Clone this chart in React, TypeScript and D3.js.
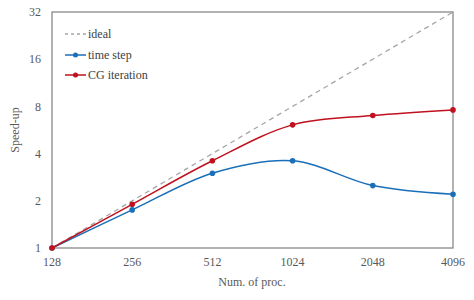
import React from "react";
import * as d3 from "d3";

const procs = [128, 256, 512, 1024, 2048, 4096];
const yTicks = [1, 2, 4, 8, 16, 32];
const idealValues = [1, 2, 4, 8, 16, 32];
const timeStepValues = [1, 1.75, 3.0, 3.6, 2.5, 2.2];
const cgValues = [1, 1.9, 3.6, 6.1, 7.0, 7.6];

const W = 474, H = 300;
const M = { left: 52, right: 21, top: 12, bottom: 52 };
const FONT = "'Liberation Serif', 'DejaVu Serif', serif";

export default function App() {
  const x = d3.scaleLog().base(2).domain([128, 4096]).range([M.left, W - M.right]);
  const y = d3.scaleLog().base(2).domain([1, 32]).range([H - M.bottom, M.top]);
  const line = (vals: number[], curve: d3.CurveFactory) =>
    d3.line<number>().x((_, i) => x(procs[i])).y((v) => y(v)).curve(curve)(vals) || "";
  const series = [
    { name: "time step", vals: timeStepValues, color: "#1a6fb8" },
    { name: "CG iteration", vals: cgValues, color: "#c0111f" },
  ];
  const legendY = [34, 55, 75];
  return (
    <svg width={W} height={H} style={{ position: "absolute", left: 0, top: 0, background: "#fff" }}>
      <rect x={M.left} y={M.top} width={W - M.left - M.right} height={H - M.top - M.bottom}
        fill="none" stroke="#7f7f7f" strokeWidth={1.2} />
      {yTicks.map((t) => (
        <text key={t} x={41} y={y(t)} dy="0.35em" textAnchor="end" fontFamily={FONT} fontSize={12} fill="#595959">{t}</text>
      ))}
      {procs.map((p) => (
        <text key={p} x={x(p)} y={266} textAnchor="middle" fontFamily={FONT} fontSize={12} fill="#595959">{p}</text>
      ))}
      <text x={252} y={286} textAnchor="middle" fontFamily={FONT} fontSize={12} fill="#595959">Num. of proc.</text>
      <text transform={`translate(19,${(M.top + H - M.bottom) / 2}) rotate(-90)`} textAnchor="middle" fontFamily={FONT} fontSize={12} fill="#595959">Speed-up</text>
      <path d={line(idealValues, d3.curveLinear)} fill="none" stroke="#a6a6a6" strokeWidth={1.3} strokeDasharray="5,4" />
      {series.map((s) => (
        <g key={s.name}>
          <path d={line(s.vals, d3.curveCatmullRom.alpha(0.5))} fill="none" stroke={s.color} strokeWidth={1.5} />
          {s.vals.map((v, i) => (
            <circle key={i} cx={x(procs[i])} cy={y(v)} r={2.8} fill={s.color} />
          ))}
        </g>
      ))}
      <g fontFamily={FONT} fontSize={12} fill="#404040">
        <line x1={65} x2={86} y1={legendY[0]} y2={legendY[0]} stroke="#a6a6a6" strokeWidth={1.3} strokeDasharray="3,3" />
        <text x={88} y={legendY[0]} dy="0.35em">ideal</text>
        {series.map((s, i) => (
          <g key={s.name}>
            <line x1={65} x2={86} y1={legendY[i + 1]} y2={legendY[i + 1]} stroke={s.color} strokeWidth={1.5} />
            <circle cx={75.5} cy={legendY[i + 1]} r={2.5} fill={s.color} />
            <text x={88} y={legendY[i + 1]} dy="0.35em">{s.name}</text>
          </g>
        ))}
      </g>
    </svg>
  );
}
